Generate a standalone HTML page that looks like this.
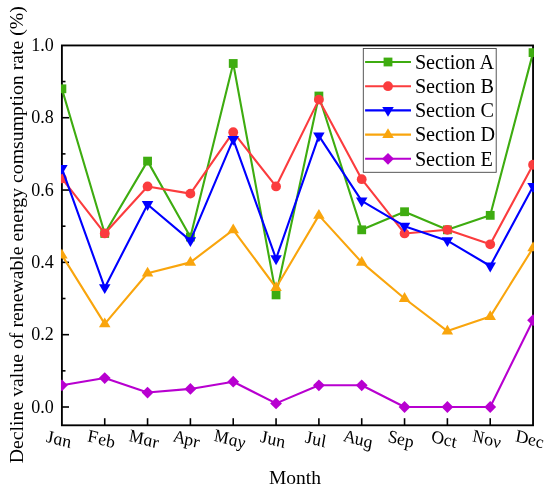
<!DOCTYPE html><html><head><meta charset="utf-8"><title>Chart</title><style>html,body{margin:0;padding:0;background:#fff}svg{display:block}text{font-family:"Liberation Serif","Times New Roman",serif;fill:#000}</style></head><body>
<svg width="550" height="494" viewBox="0 0 550 494">
<rect width="550" height="494" fill="#fff"/>
<defs><clipPath id="cp"><rect x="61.0" y="44.45" width="472.95" height="380.85"/></clipPath></defs>
<rect x="61.9" y="45.45" width="471.15" height="379.85" fill="none" stroke="#000" stroke-width="1.85"/>
<line x1="61.9" x2="69.0" y1="407.00" y2="407.00" stroke="#000" stroke-width="1.6"/>
<text x="53.8" y="412.60" font-size="18" text-anchor="end">0.0</text>
<line x1="61.9" x2="69.0" y1="334.68" y2="334.68" stroke="#000" stroke-width="1.6"/>
<text x="53.8" y="340.28" font-size="18" text-anchor="end">0.2</text>
<line x1="61.9" x2="69.0" y1="262.36" y2="262.36" stroke="#000" stroke-width="1.6"/>
<text x="53.8" y="267.96" font-size="18" text-anchor="end">0.4</text>
<line x1="61.9" x2="69.0" y1="190.04" y2="190.04" stroke="#000" stroke-width="1.6"/>
<text x="53.8" y="195.64" font-size="18" text-anchor="end">0.6</text>
<line x1="61.9" x2="69.0" y1="117.72" y2="117.72" stroke="#000" stroke-width="1.6"/>
<text x="53.8" y="123.32" font-size="18" text-anchor="end">0.8</text>
<text x="53.8" y="51.00" font-size="18" text-anchor="end">1.0</text>
<line x1="61.9" x2="65.5" y1="370.84" y2="370.84" stroke="#000" stroke-width="1.6"/>
<line x1="61.9" x2="65.5" y1="298.52" y2="298.52" stroke="#000" stroke-width="1.6"/>
<line x1="61.9" x2="65.5" y1="226.20" y2="226.20" stroke="#000" stroke-width="1.6"/>
<line x1="61.9" x2="65.5" y1="153.88" y2="153.88" stroke="#000" stroke-width="1.6"/>
<line x1="61.9" x2="65.5" y1="81.56" y2="81.56" stroke="#000" stroke-width="1.6"/>
<text transform="matrix(0.95,0.2546,0,1,58.30,439)" font-size="18.4" font-style="italic" text-anchor="middle" y="6">Jan</text>
<line x1="104.73" x2="104.73" y1="425.3" y2="418.2" stroke="#000" stroke-width="1.6"/>
<text transform="matrix(0.95,0.2546,0,1,101.13,439)" font-size="18.4" font-style="italic" text-anchor="middle" y="6">Feb</text>
<line x1="147.56" x2="147.56" y1="425.3" y2="418.2" stroke="#000" stroke-width="1.6"/>
<text transform="matrix(0.95,0.2546,0,1,143.96,439)" font-size="18.4" font-style="italic" text-anchor="middle" y="6">Mar</text>
<line x1="190.40" x2="190.40" y1="425.3" y2="418.2" stroke="#000" stroke-width="1.6"/>
<text transform="matrix(0.95,0.2546,0,1,186.80,439)" font-size="18.4" font-style="italic" text-anchor="middle" y="6">Apr</text>
<line x1="233.23" x2="233.23" y1="425.3" y2="418.2" stroke="#000" stroke-width="1.6"/>
<text transform="matrix(0.95,0.2546,0,1,229.63,439)" font-size="18.4" font-style="italic" text-anchor="middle" y="6">May</text>
<line x1="276.06" x2="276.06" y1="425.3" y2="418.2" stroke="#000" stroke-width="1.6"/>
<text transform="matrix(0.95,0.2546,0,1,272.46,439)" font-size="18.4" font-style="italic" text-anchor="middle" y="6">Jun</text>
<line x1="318.89" x2="318.89" y1="425.3" y2="418.2" stroke="#000" stroke-width="1.6"/>
<text transform="matrix(0.95,0.2546,0,1,315.29,439)" font-size="18.4" font-style="italic" text-anchor="middle" y="6">Jul</text>
<line x1="361.72" x2="361.72" y1="425.3" y2="418.2" stroke="#000" stroke-width="1.6"/>
<text transform="matrix(0.95,0.2546,0,1,358.12,439)" font-size="18.4" font-style="italic" text-anchor="middle" y="6">Aug</text>
<line x1="404.55" x2="404.55" y1="425.3" y2="418.2" stroke="#000" stroke-width="1.6"/>
<text transform="matrix(0.95,0.2546,0,1,400.95,439)" font-size="18.4" font-style="italic" text-anchor="middle" y="6">Sep</text>
<line x1="447.39" x2="447.39" y1="425.3" y2="418.2" stroke="#000" stroke-width="1.6"/>
<text transform="matrix(0.95,0.2546,0,1,443.79,439)" font-size="18.4" font-style="italic" text-anchor="middle" y="6">Oct</text>
<line x1="490.22" x2="490.22" y1="425.3" y2="418.2" stroke="#000" stroke-width="1.6"/>
<text transform="matrix(0.95,0.2546,0,1,486.62,439)" font-size="18.4" font-style="italic" text-anchor="middle" y="6">Nov</text>
<text transform="matrix(0.95,0.2546,0,1,529.45,439)" font-size="18.4" font-style="italic" text-anchor="middle" y="6">Dec</text>
<g clip-path="url(#cp)">
<polyline points="61.90,88.79 104.73,233.43 147.56,161.11 190.40,237.05 233.23,63.48 276.06,294.90 318.89,96.02 361.72,229.82 404.55,211.74 447.39,229.82 490.22,215.35 533.05,52.63" fill="none" stroke="#3eac10" stroke-width="2.1" stroke-linejoin="round"/>
<rect x="57.50" y="84.39" width="8.8" height="8.8" fill="#3eac10"/>
<rect x="100.33" y="229.03" width="8.8" height="8.8" fill="#3eac10"/>
<rect x="143.16" y="156.71" width="8.8" height="8.8" fill="#3eac10"/>
<rect x="186.00" y="232.65" width="8.8" height="8.8" fill="#3eac10"/>
<rect x="228.83" y="59.08" width="8.8" height="8.8" fill="#3eac10"/>
<rect x="271.66" y="290.50" width="8.8" height="8.8" fill="#3eac10"/>
<rect x="314.49" y="91.62" width="8.8" height="8.8" fill="#3eac10"/>
<rect x="357.32" y="225.42" width="8.8" height="8.8" fill="#3eac10"/>
<rect x="400.15" y="207.34" width="8.8" height="8.8" fill="#3eac10"/>
<rect x="442.99" y="225.42" width="8.8" height="8.8" fill="#3eac10"/>
<rect x="485.82" y="210.95" width="8.8" height="8.8" fill="#3eac10"/>
<rect x="528.65" y="48.23" width="8.8" height="8.8" fill="#3eac10"/>
<polyline points="61.90,178.47 104.73,233.43 147.56,186.42 190.40,193.66 233.23,132.18 276.06,186.42 318.89,99.64 361.72,179.19 404.55,233.43 447.39,229.82 490.22,244.28 533.05,164.73" fill="none" stroke="#fb3c3e" stroke-width="2.1" stroke-linejoin="round"/>
<circle cx="61.90" cy="178.47" r="4.9" fill="#fb3c3e"/>
<circle cx="104.73" cy="233.43" r="4.9" fill="#fb3c3e"/>
<circle cx="147.56" cy="186.42" r="4.9" fill="#fb3c3e"/>
<circle cx="190.40" cy="193.66" r="4.9" fill="#fb3c3e"/>
<circle cx="233.23" cy="132.18" r="4.9" fill="#fb3c3e"/>
<circle cx="276.06" cy="186.42" r="4.9" fill="#fb3c3e"/>
<circle cx="318.89" cy="99.64" r="4.9" fill="#fb3c3e"/>
<circle cx="361.72" cy="179.19" r="4.9" fill="#fb3c3e"/>
<circle cx="404.55" cy="233.43" r="4.9" fill="#fb3c3e"/>
<circle cx="447.39" cy="229.82" r="4.9" fill="#fb3c3e"/>
<circle cx="490.22" cy="244.28" r="4.9" fill="#fb3c3e"/>
<circle cx="533.05" cy="164.73" r="4.9" fill="#fb3c3e"/>
<polyline points="61.90,168.34 104.73,287.67 147.56,204.50 190.40,240.66 233.23,139.42 276.06,258.74 318.89,135.80 361.72,200.89 404.55,226.20 447.39,240.66 490.22,265.98 533.05,186.42" fill="none" stroke="#0000ff" stroke-width="2.1" stroke-linejoin="round"/>
<polygon points="56.15,164.94 67.65,164.94 61.90,174.74" fill="#0000ff"/>
<polygon points="98.98,284.27 110.48,284.27 104.73,294.07" fill="#0000ff"/>
<polygon points="141.81,201.10 153.31,201.10 147.56,210.90" fill="#0000ff"/>
<polygon points="184.65,237.26 196.15,237.26 190.40,247.06" fill="#0000ff"/>
<polygon points="227.48,136.02 238.98,136.02 233.23,145.82" fill="#0000ff"/>
<polygon points="270.31,255.34 281.81,255.34 276.06,265.14" fill="#0000ff"/>
<polygon points="313.14,132.40 324.64,132.40 318.89,142.20" fill="#0000ff"/>
<polygon points="355.97,197.49 367.47,197.49 361.72,207.29" fill="#0000ff"/>
<polygon points="398.80,222.80 410.30,222.80 404.55,232.60" fill="#0000ff"/>
<polygon points="441.64,237.26 453.14,237.26 447.39,247.06" fill="#0000ff"/>
<polygon points="484.47,262.58 495.97,262.58 490.22,272.38" fill="#0000ff"/>
<polygon points="527.30,183.02 538.80,183.02 533.05,192.82" fill="#0000ff"/>
<polyline points="61.90,255.13 104.73,323.83 147.56,273.21 190.40,262.36 233.23,229.82 276.06,287.67 318.89,215.35 361.72,262.36 404.55,298.52 447.39,331.06 490.22,316.60 533.05,247.90" fill="none" stroke="#f9a50d" stroke-width="2.1" stroke-linejoin="round"/>
<polygon points="56.15,258.53 67.65,258.53 61.90,248.73" fill="#f9a50d"/>
<polygon points="98.98,327.23 110.48,327.23 104.73,317.43" fill="#f9a50d"/>
<polygon points="141.81,276.61 153.31,276.61 147.56,266.81" fill="#f9a50d"/>
<polygon points="184.65,265.76 196.15,265.76 190.40,255.96" fill="#f9a50d"/>
<polygon points="227.48,233.22 238.98,233.22 233.23,223.42" fill="#f9a50d"/>
<polygon points="270.31,291.07 281.81,291.07 276.06,281.27" fill="#f9a50d"/>
<polygon points="313.14,218.75 324.64,218.75 318.89,208.95" fill="#f9a50d"/>
<polygon points="355.97,265.76 367.47,265.76 361.72,255.96" fill="#f9a50d"/>
<polygon points="398.80,301.92 410.30,301.92 404.55,292.12" fill="#f9a50d"/>
<polygon points="441.64,334.46 453.14,334.46 447.39,324.66" fill="#f9a50d"/>
<polygon points="484.47,320.00 495.97,320.00 490.22,310.20" fill="#f9a50d"/>
<polygon points="527.30,251.30 538.80,251.30 533.05,241.50" fill="#f9a50d"/>
<polyline points="61.90,385.30 104.73,378.07 147.56,392.54 190.40,388.92 233.23,381.69 276.06,403.38 318.89,385.30 361.72,385.30 404.55,407.00 447.39,407.00 490.22,407.00 533.05,320.22" fill="none" stroke="#b800d0" stroke-width="2.1" stroke-linejoin="round"/>
<polygon points="56.00,385.30 61.90,379.40 67.80,385.30 61.90,391.20" fill="#b800d0"/>
<polygon points="98.83,378.07 104.73,372.17 110.63,378.07 104.73,383.97" fill="#b800d0"/>
<polygon points="141.66,392.54 147.56,386.64 153.46,392.54 147.56,398.44" fill="#b800d0"/>
<polygon points="184.50,388.92 190.40,383.02 196.30,388.92 190.40,394.82" fill="#b800d0"/>
<polygon points="227.33,381.69 233.23,375.79 239.13,381.69 233.23,387.59" fill="#b800d0"/>
<polygon points="270.16,403.38 276.06,397.48 281.96,403.38 276.06,409.28" fill="#b800d0"/>
<polygon points="312.99,385.30 318.89,379.40 324.79,385.30 318.89,391.20" fill="#b800d0"/>
<polygon points="355.82,385.30 361.72,379.40 367.62,385.30 361.72,391.20" fill="#b800d0"/>
<polygon points="398.65,407.00 404.55,401.10 410.45,407.00 404.55,412.90" fill="#b800d0"/>
<polygon points="441.49,407.00 447.39,401.10 453.29,407.00 447.39,412.90" fill="#b800d0"/>
<polygon points="484.32,407.00 490.22,401.10 496.12,407.00 490.22,412.90" fill="#b800d0"/>
<polygon points="527.15,320.22 533.05,314.32 538.95,320.22 533.05,326.12" fill="#b800d0"/>
</g>
<text transform="translate(22.8,234.7) rotate(-90)" font-size="19.8" text-anchor="middle">Decline value of renewable energy comsumption rate (%)</text>
<text x="295" y="484" font-size="19.5" text-anchor="middle">Month</text>
<rect x="363.3" y="48.5" width="132.9" height="123.8" fill="#fff" stroke="#444" stroke-width="0.9"/>
<line x1="365.1" x2="411" y1="62.00" y2="62.00" stroke="#3eac10" stroke-width="2.1"/>
<rect x="383.60" y="57.60" width="8.8" height="8.8" fill="#3eac10"/>
<text x="414.9" y="68.80" font-size="20.2">Section A</text>
<line x1="365.1" x2="411" y1="86.20" y2="86.20" stroke="#fb3c3e" stroke-width="2.1"/>
<circle cx="388.00" cy="86.20" r="4.9" fill="#fb3c3e"/>
<text x="414.9" y="93.00" font-size="20.2">Section B</text>
<line x1="365.1" x2="411" y1="110.40" y2="110.40" stroke="#0000ff" stroke-width="2.1"/>
<polygon points="382.25,107.00 393.75,107.00 388.00,116.80" fill="#0000ff"/>
<text x="414.9" y="117.20" font-size="20.2">Section C</text>
<line x1="365.1" x2="411" y1="134.60" y2="134.60" stroke="#f9a50d" stroke-width="2.1"/>
<polygon points="382.25,138.00 393.75,138.00 388.00,128.20" fill="#f9a50d"/>
<text x="414.9" y="141.40" font-size="20.2">Section D</text>
<line x1="365.1" x2="411" y1="158.80" y2="158.80" stroke="#b800d0" stroke-width="2.1"/>
<polygon points="382.10,158.80 388.00,152.90 393.90,158.80 388.00,164.70" fill="#b800d0"/>
<text x="414.9" y="165.60" font-size="20.2">Section E</text>
</svg></body></html>
